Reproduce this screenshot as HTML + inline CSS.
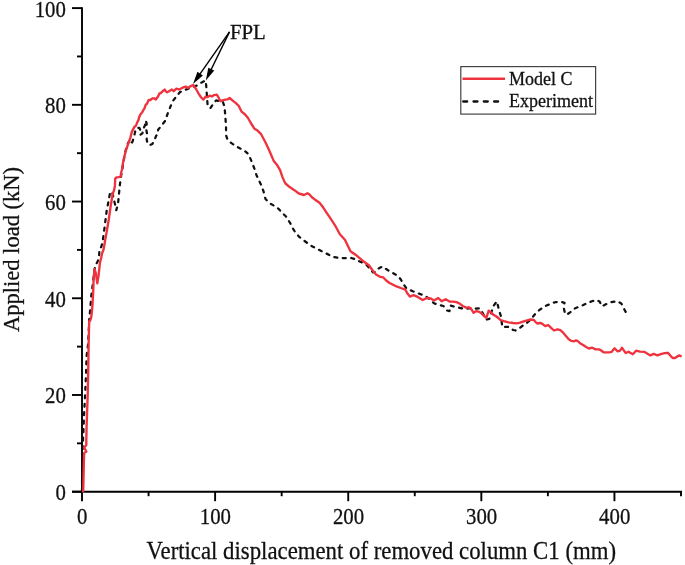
<!DOCTYPE html>
<html><head><meta charset="utf-8"><style>
html,body{margin:0;padding:0;background:#fff;}
svg{display:block;}
text{font-family:"Liberation Serif","Times New Roman",serif;fill:#111;stroke:#111;stroke-width:0.28px;}
</style></head><body>
<svg width="685" height="565" viewBox="0 0 685 565">
<rect width="685" height="565" fill="#fff"/>
<g stroke="#000" stroke-width="1.9" fill="none">
<line x1="82" y1="7.2" x2="82" y2="491.7"/>
<line x1="72" y1="491.7" x2="682" y2="491.7"/>
<line x1="72" y1="491.70" x2="82" y2="491.70"/><line x1="77" y1="443.34" x2="82" y2="443.34"/><line x1="72" y1="394.98" x2="82" y2="394.98"/><line x1="77" y1="346.62" x2="82" y2="346.62"/><line x1="72" y1="298.26" x2="82" y2="298.26"/><line x1="77" y1="249.90" x2="82" y2="249.90"/><line x1="72" y1="201.54" x2="82" y2="201.54"/><line x1="77" y1="153.18" x2="82" y2="153.18"/><line x1="72" y1="104.82" x2="82" y2="104.82"/><line x1="77" y1="56.46" x2="82" y2="56.46"/><line x1="72" y1="8.10" x2="82" y2="8.10"/><line x1="82.00" y1="491.7" x2="82.00" y2="501.2"/><line x1="148.56" y1="491.7" x2="148.56" y2="496.2"/><line x1="215.11" y1="491.7" x2="215.11" y2="501.2"/><line x1="281.66" y1="491.7" x2="281.66" y2="496.2"/><line x1="348.22" y1="491.7" x2="348.22" y2="501.2"/><line x1="414.77" y1="491.7" x2="414.77" y2="496.2"/><line x1="481.33" y1="491.7" x2="481.33" y2="501.2"/><line x1="547.88" y1="491.7" x2="547.88" y2="496.2"/><line x1="614.44" y1="491.7" x2="614.44" y2="501.2"/><line x1="681.00" y1="491.7" x2="681.00" y2="496.2"/>
</g>
<polyline fill="none" stroke="#111" stroke-width="2.25" stroke-dasharray="3 5.5" stroke-linecap="round" stroke-linejoin="round" points="82,491.7 82.2,460 82.9,442.8 83.4,432.2 84,416.2 85,397.3 86.1,371.8 86.6,355.9 88,345 88.6,335 89.2,320.1 90.2,309.5 91.3,295.6 92.4,287.1 95,266.5 97.7,261.2 99,257.7 99.5,248.8 101.2,247.1 102.6,241.8 104.5,228 106.5,212 110.1,192.5 111.9,191.6 113.6,197.8 116.3,210.2 118.1,203.1 119.8,185.4 120.7,178.3 122.5,167.7 125.1,152.5 127.2,144.7 129,141.5 130.3,144.6 132.5,141.8 134.6,134.1 135.7,129.1 137.5,127.9 139.3,127.8 140.6,130.5 140.3,134.8 142.4,133.4 143.1,129.1 144.9,125.6 145.6,120.6 146.7,123.4 146.3,129.8 147,133.4 146.7,139.7 147.7,144 150,145 152.4,144 154.6,139.7 156,136.2 157.4,134.1 158.1,129.8 160.9,126.3 164.9,121.3 167.5,114.2 170.2,107.2 172.8,101 176.4,96.5 179.9,92.1 184.2,90.2 188.5,88.6 192.7,86.9 197,85.5 201.2,82.7 205.5,80.5 206.2,85.5 206.9,95.4 207.6,105.3 208.3,106.7 210.4,108.1 213.3,103.9 216.1,100.4 219.6,101.1 222.5,101.1 224.6,106.7 225.3,116.6 226,125.1 226.1,135.3 227.5,139.8 231.8,143.4 238.4,147.6 244.1,150.4 248.3,154 250.3,158.4 252.5,163.7 254.5,168.8 256.5,175.2 258.7,180 261.4,185.4 263.6,191.6 264.5,195.5 265.5,199 268,201.5 271,204 275.5,206.5 278.5,208.8 282,212.7 286,216.5 288.5,220.5 290.2,223.1 292.6,228.1 295.4,232.4 298.9,236.6 302.5,239.5 307.4,243 312.4,246.5 318.1,249.4 323.7,252.2 329.4,255 334.2,257.1 339.9,258.2 345.6,258.2 351.2,258 356.2,259.6 360.4,261.8 365.4,263.9 368.2,266.7 370.4,269.6 373.2,272.4 375.5,272 378.5,268.5 382.5,266.5 388.1,270.3 393,273.1 398,275.9 400.8,279.5 403.6,284.4 406.4,288.4 412.7,291.2 418.4,293.4 424.1,295.5 427.6,297.6 431.2,300.4 434,303.3 438.2,304.7 443.4,306 447,310.5 449.5,311.1 450.5,305.5 454.3,306.7 459.6,307.8 464.4,309.1 469.4,308.2 474.9,308.8 479.3,308.2 481.7,311.3 484.6,316.5 486.9,319.5 489.3,318.9 493.4,306 496.9,301.4 498,306 499.2,310.7 501,316.5 502.3,327 508,326.8 513.2,330 515.5,330.5 517.9,329.4 523.2,325.3 526.1,323.6 529.6,320.6 533.1,316.5 536.6,312.4 540.1,309.5 544.7,306.3 550.5,303.9 555.2,302.2 560.4,301.6 564.5,302.8 563.9,308.6 565.1,313.9 566.9,314.5 570.4,312.1 574.5,308.6 578.5,306.9 583.2,305.1 587.9,302.8 592.6,301 596.6,300.1 599.6,301.6 601.9,306.3 606.6,303.9 611.2,302.2 616.7,301.1 621.3,303.4 623.8,308.4 625.9,312.3 627,314.7"/>
<polyline fill="none" stroke="#ee333f" stroke-width="2.35" stroke-linejoin="round" stroke-linecap="round" points="83.2,491.5 83.9,460 84.2,453 86.4,451.5 84.2,447.5 86.3,445 86.3,441 86.6,426.8 87.7,395 88.2,371.8 88.7,340 89.2,321.2 90.2,320.6 91.3,316.9 92.4,306.3 93.2,292 93.7,277.2 94.6,269.2 95.9,273.6 97.3,283.4 98.6,275.4 99.9,263 101.2,257.7 102.1,253.3 103.5,249.7 104.3,245.3 105.2,240 107,230 108.7,220 110.5,207.2 111.8,199.2 112.7,193.9 114,190.4 114.9,185.9 115.2,178.8 116.2,177.5 118.5,177.1 120.7,176.6 121.1,172.7 122,169.5 122.8,164 124.2,157.1 126.1,150 128.6,142.6 130.4,137.6 131.8,131.9 133.2,129.1 134.3,127 136,125.6 137.1,122.7 138.5,119.9 139.2,117.1 140.6,114.2 142.4,112.1 143.1,110.5 144.5,108.4 145.2,106.2 145.9,104.5 147,103.8 148.1,101.3 148.8,99.9 150.2,100.2 151.6,99 152.7,98.3 154.4,98.4 155.8,99.5 156.9,98 158.3,96 159.4,93.5 160.8,93.1 162.2,91.7 163.3,90.7 164.7,89.6 165.8,91.4 167.2,92.4 168.6,91.4 171.9,89.5 173.7,91.2 176.4,88.6 179,89.5 180.5,88.8 182.6,87.7 185.7,86.6 187.8,88 189.9,86.6 192,85.5 193.5,85.2 195.6,88.3 198.4,93.3 201.2,97.5 203.4,99.6 205.5,96.8 207.6,97.1 209.7,95.7 211.9,96.5 214,95.1 216.8,94.7 218.2,96.8 220.3,101.1 222.5,100.4 225.3,99.6 227.4,99.4 229.6,98 232.4,100.4 235.9,103.2 238.8,106 241.6,111.7 245.1,114.5 248,118 250.8,123 254.4,128.7 257.5,130.6 261.1,134.2 265.3,142 269.6,151.2 273.8,161.1 277.3,165.3 280.2,170.3 282.3,176.6 284.4,181.6 285.5,183.5 289.7,187.1 294,189.9 298.9,193.5 304,195 307.5,193.3 309.5,194.5 311.7,197 315.2,199.8 319.5,202.7 322.3,206.2 326.5,212.6 330.8,218.9 335,225.3 339.9,234.2 344.9,239.8 347.7,245.5 350.5,251.2 355.5,254.7 359.7,258.2 364,261.8 368.9,265.3 372.5,270.3 376,274.5 379.6,276.6 383.1,277.3 385.9,280.2 389.5,283 395.1,285.8 400.8,288 405.3,289.6 407.3,293.2 409.9,296.6 413.5,295.2 417.7,296.9 422.7,300 426.9,298 430.4,298.3 434,300.4 438.2,298 441.6,301.2 445.6,299.2 449.5,301.5 453,301.6 456.5,302.1 460,303.8 462.7,306 466.2,307.6 468.8,307.3 471,308.6 473.6,312.8 476.5,311.1 479.3,311.9 481.7,313.6 484,316 486.4,317.7 488.7,310.7 491,312.4 493.4,314.8 495.7,316 498,317.7 500.4,320 503.9,321.2 508.5,322.4 513.2,323 516.7,323.3 520.2,322.6 523.7,321.4 527.2,320.3 530.7,319.5 533.6,319.8 535.4,321.8 537.2,323.5 540.1,323 541.8,323.5 545.3,326.1 548.2,325 551.1,327.9 554,330.5 557.5,329.3 560.4,330.2 562.8,332.3 565.7,335.7 568.5,339 571.4,340.9 573.8,341.3 576.1,340.4 578,341.3 580.4,343.5 583.2,345.1 586.1,347 588.9,348.5 592.3,347.7 595.6,349.4 598.9,349.4 600.8,350.2 603.6,352.3 606.5,352.3 609.3,352.3 611.7,351.8 614.6,348.3 617.4,351.3 619.8,350.8 621.9,347.8 623.8,350.4 625.7,353 628.5,351.8 632.8,354.2 636.1,350.7 639.9,351.6 644.2,351.8 647.5,353.7 650.4,355.4 653.7,353.9 657.5,355.4 660.8,354.2 664.6,353.2 667.9,352.8 670.3,355.6 672.7,358 675,358 677.4,356.4 679.3,355.4 680.7,356.1"/>

<g font-size="22.4">
<text transform="translate(65.9,499.9) scale(0.93,1)" text-anchor="end">0</text><text transform="translate(65.9,403.2) scale(0.93,1)" text-anchor="end">20</text><text transform="translate(65.9,306.5) scale(0.93,1)" text-anchor="end">40</text><text transform="translate(65.9,209.7) scale(0.93,1)" text-anchor="end">60</text><text transform="translate(65.9,113.0) scale(0.93,1)" text-anchor="end">80</text><text transform="translate(65.9,17.1) scale(0.93,1)" text-anchor="end">100</text>
<text transform="translate(82.3,524) scale(0.93,1)" text-anchor="middle">0</text><text transform="translate(215.4,524) scale(0.93,1)" text-anchor="middle">100</text><text transform="translate(348.5,524) scale(0.93,1)" text-anchor="middle">200</text><text transform="translate(481.6,524) scale(0.93,1)" text-anchor="middle">300</text><text transform="translate(614.7,524) scale(0.93,1)" text-anchor="middle">400</text>
</g>
<text transform="translate(381.3,558.5) scale(0.938,1)" font-size="24.3" text-anchor="middle">Vertical displacement of removed column C1 (mm)</text>
<text transform="translate(18.7,249.5) rotate(-90) scale(0.955,1)" font-size="23.6" text-anchor="middle">Applied load (kN)</text>
<text transform="translate(229.9,38.8) scale(1.04,1)" font-size="20">FPL</text>
<g stroke="#000" stroke-width="1.4" fill="none"><line x1="229.5" y1="31.9" x2="199.03" y2="75.31"/><line x1="229.5" y1="31.9" x2="210.41" y2="70.97"/></g>
<g fill="#000"><polygon points="193,83.9 197.48,71.77 202.88,75.56"/><polygon points="205.8,80.4 208.32,67.72 214.25,70.62"/></g>
<rect x="460.8" y="66.6" width="134.8" height="47.5" fill="none" stroke="#444" stroke-width="1.2"/>
<line x1="462.5" y1="78.7" x2="505" y2="78.7" stroke="#ee333f" stroke-width="2.5"/>
<line x1="463.2" y1="101.5" x2="500" y2="101.5" stroke="#111" stroke-width="2.3" stroke-dasharray="4 6.3" stroke-linecap="round"/>
<text x="509" y="85" font-size="18">Model C</text>
<text x="509" y="107.2" font-size="18">Experiment</text>
</svg>
</body></html>
